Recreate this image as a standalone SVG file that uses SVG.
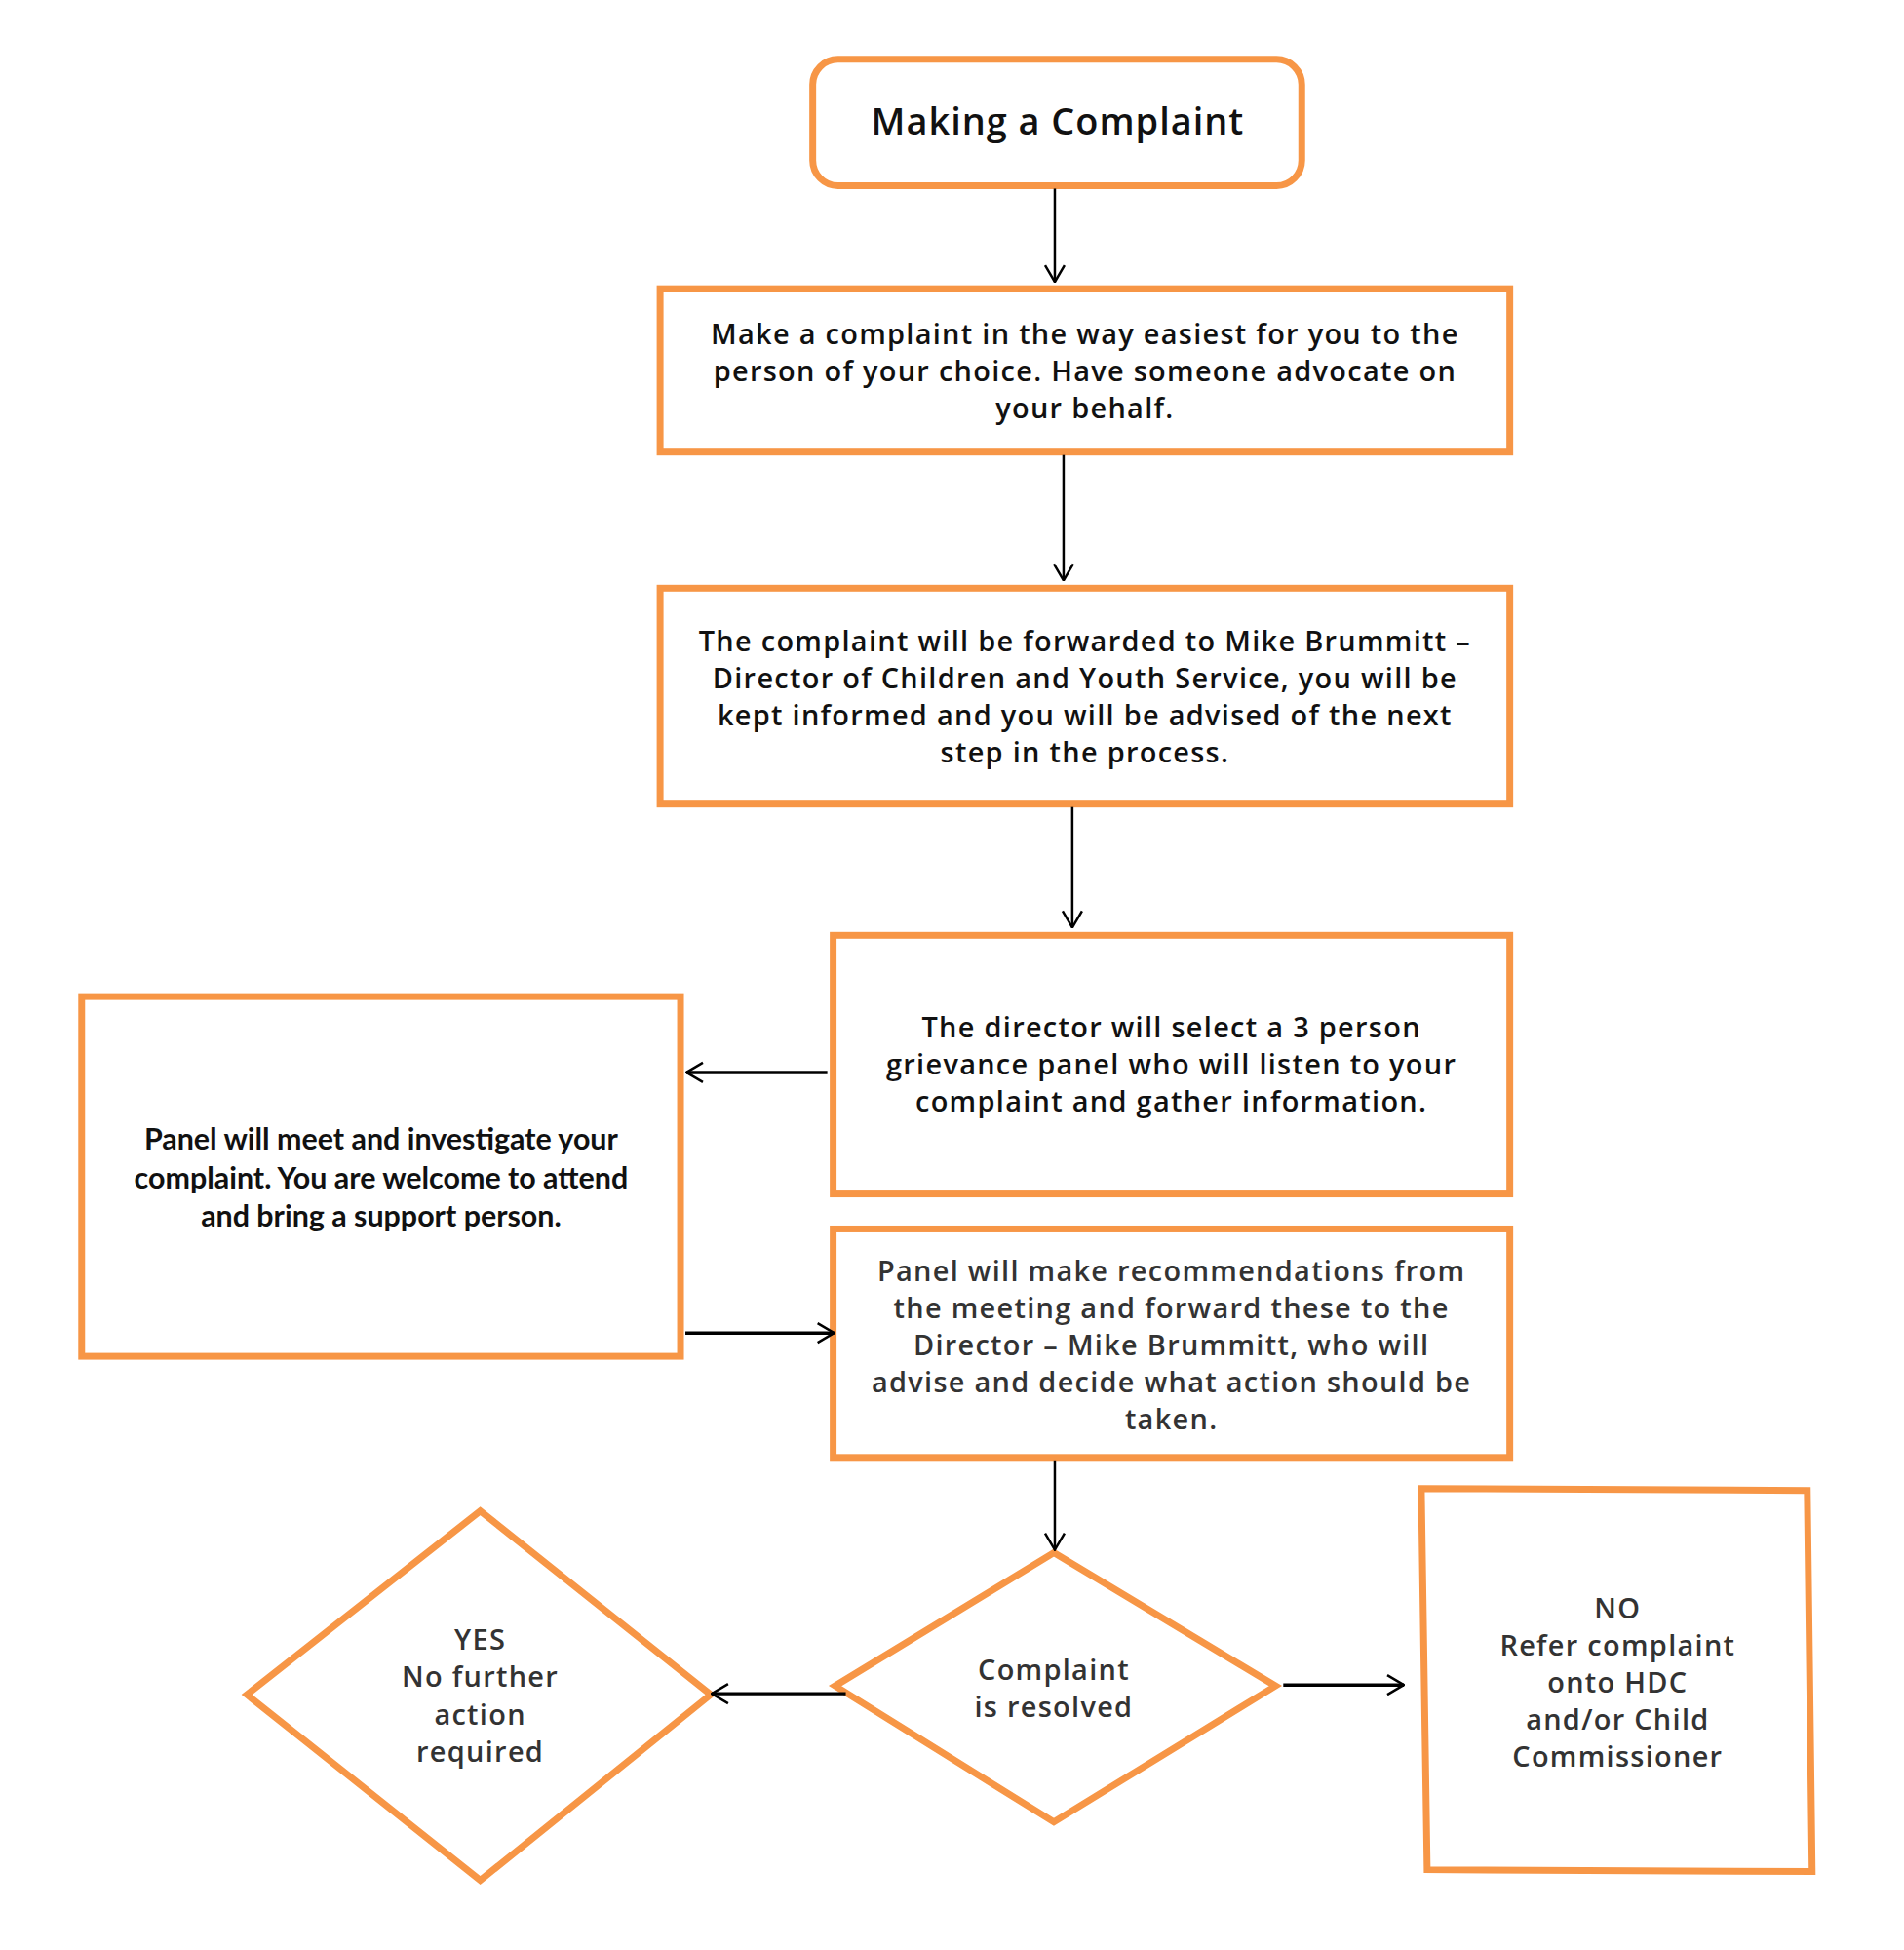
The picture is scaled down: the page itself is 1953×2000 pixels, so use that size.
<svg xmlns="http://www.w3.org/2000/svg" width="1953" height="2000" viewBox="0 0 1953 2000">
<style>
.box{fill:#fff;stroke:#F79646;stroke-width:7}
.t{font-family:"Open Sans","Liberation Sans",sans-serif;font-weight:600;font-size:29px;fill:#111;text-anchor:middle;letter-spacing:1.3px}
.g{fill:#333}
.c{font-family:Lato,"Liberation Sans",sans-serif;font-weight:700;font-size:30.5px;fill:#111;text-anchor:middle}
.ttl{font-size:38px;letter-spacing:1px}
.ln{fill:none;stroke:#000;stroke-width:2.5}
.lt{stroke-width:3.5}
</style>
<defs>
<marker id="ah" viewBox="0 0 20 24" refX="19" refY="12" markerWidth="20" markerHeight="24" markerUnits="userSpaceOnUse" orient="auto">
<path d="M2,2 L19,12 L2,22" fill="none" stroke="#000" stroke-width="2.5"/>
</marker>
</defs>
<rect width="1953" height="2000" fill="#fff"/>
<g transform="scale(0.9972)">
<g id="n1">
<rect class="box" x="836" y="61" width="503" height="130" rx="26"/>
<text class="t ttl" x="1088" y="138">Making a Complaint</text>
</g>
<g id="n2">
<rect class="box" x="679" y="297" width="874" height="168"/>
<text class="t" x="1116" y="354">Make a complaint in the way easiest for you to the</text>
<text class="t" x="1116" y="392">person of your choice. Have someone advocate on</text>
<text class="t" x="1116" y="430">your behalf.</text>
</g>
<g id="n3">
<rect class="box" x="679" y="605" width="874" height="222"/>
<text class="t" x="1116" y="670">The complaint will be forwarded to Mike Brummitt –</text>
<text class="t" x="1116" y="708">Director of Children and Youth Service, you will be</text>
<text class="t" x="1116" y="746">kept informed and you will be advised of the next</text>
<text class="t" x="1116" y="784">step in the process.</text>
</g>
<g id="n4">
<rect class="box" x="857" y="962" width="696" height="266"/>
<text class="t" x="1205" y="1067">The director will select a 3 person</text>
<text class="t" x="1205" y="1105">grievance panel who will listen to your</text>
<text class="t" x="1205" y="1143">complaint and gather information.</text>
</g>
<g id="n5">
<rect class="box" x="84" y="1025" width="616" height="370"/>
<text class="c" x="392" y="1182">Panel will meet and investigate your</text>
<text class="c" x="392" y="1222">complaint. You are welcome to attend</text>
<text class="c" x="392" y="1262">and bring a support person.</text>
</g>
<g id="n6">
<rect class="box" x="857" y="1264" width="696" height="235"/>
<text class="t g" x="1205" y="1318">Panel will make recommendations from</text>
<text class="t g" x="1205" y="1356">the meeting and forward these to the</text>
<text class="t g" x="1205" y="1394">Director – Mike Brummitt, who will</text>
<text class="t g" x="1205" y="1432">advise and decide what action should be</text>
<text class="t g" x="1205" y="1470">taken.</text>
</g>
<g id="n7">
<polygon class="box" points="1084,1597 1312,1734 1084,1874 859,1734"/>
<text class="t g" x="1084" y="1728">Complaint</text>
<text class="t g" x="1084" y="1766">is resolved</text>
</g>
<g id="n8">
<polygon class="box" points="494,1554 731,1743 494,1934 254,1743"/>
<text class="t g" x="494" y="1697">YES</text>
<text class="t g" x="494" y="1735">No further</text>
<text class="t g" x="494" y="1774">action</text>
<text class="t g" x="494" y="1812">required</text>
</g>
<g id="n9">
<polygon class="box" points="1462,1531 1859,1533 1864,1925 1468,1923"/>
<text class="t g" x="1664" y="1665">NO</text>
<text class="t g" x="1664" y="1703">Refer complaint</text>
<text class="t g" x="1664" y="1741">onto HDC</text>
<text class="t g" x="1664" y="1779">and/or Child</text>
<text class="t g" x="1664" y="1817">Commissioner</text>
</g>
<g id="connectors">
<line class="ln" x1="1085" y1="194" x2="1085" y2="290" marker-end="url(#ah)"/>
<line class="ln" x1="1094" y1="468" x2="1094" y2="597" marker-end="url(#ah)"/>
<line class="ln" x1="1103" y1="830" x2="1103" y2="954" marker-end="url(#ah)"/>
<line class="ln lt" x1="851" y1="1103" x2="706" y2="1103" marker-end="url(#ah)"/>
<line class="ln lt" x1="705" y1="1371" x2="858" y2="1371" marker-end="url(#ah)"/>
<line class="ln" x1="1085" y1="1502" x2="1085" y2="1594" marker-end="url(#ah)"/>
<line class="ln lt" x1="870" y1="1742" x2="732" y2="1742" marker-end="url(#ah)"/>
<line class="ln lt" x1="1320" y1="1733" x2="1444" y2="1733" marker-end="url(#ah)"/>
</g>
</g>
</svg>
